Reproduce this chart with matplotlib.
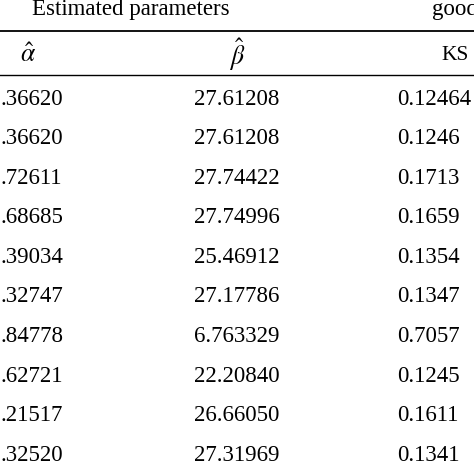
import matplotlib
matplotlib.use("Agg")
import matplotlib.pyplot as plt

alpha = [".36620", ".36620", ".72611", ".68685", ".39034", ".32747", ".84778", ".62721", ".21517", ".32520"]
beta = ["27.61208", "27.61208", "27.74422", "27.74996", "25.46912", "27.17786", "6.763329", "22.20840", "26.66050", "27.31969"]
ks = ["0.12464", "0.1246", "0.1713", "0.1659", "0.1354", "0.1347", "0.7057", "0.1245", "0.1611", "0.1341"]

fig = plt.figure(figsize=(4.74, 4.74), dpi=100)
fig.patch.set_facecolor("white")
ax = fig.add_axes([0, 0, 1, 1])
ax.set_xlim(0, 474)
ax.set_ylim(474, 0)
ax.axis("off")
fam = ["Liberation Serif", "DejaVu Serif"]
fs = 16.5

ax.text(32, 9, "Estimated parameters", fontsize=fs, family=fam, ha="left", va="center")
ax.text(432, 9, "good", fontsize=fs, family=fam, ha="left", va="center")
ax.plot([0, 474], [31, 31], color="black", lw=1.3)
ax.plot([0, 474], [75, 75], color="black", lw=1.0)
ax.text(28, 55, r"$\hat{\alpha}$", fontsize=fs + 2, ha="center", va="center",
        math_fontfamily="stix")
ax.text(237, 55, r"$\hat{\beta}$", fontsize=fs + 2, ha="center", va="center",
        math_fontfamily="stix")
ax.text(455, 55, "KS", fontsize=fs - 1, family=fam, ha="center", va="center")

y0, dy = 99, 39.6
for i, (a, b, k) in enumerate(zip(alpha, beta, ks)):
    y = y0 + i * dy
    ax.text(0, y, a, fontsize=fs, family=fam, ha="left", va="center")
    ax.text(237, y, b, fontsize=fs, family=fam, ha="center", va="center")
    ax.text(397, y, k, fontsize=fs, family=fam, ha="left", va="center")

fig.savefig("out.png", dpi=100)
